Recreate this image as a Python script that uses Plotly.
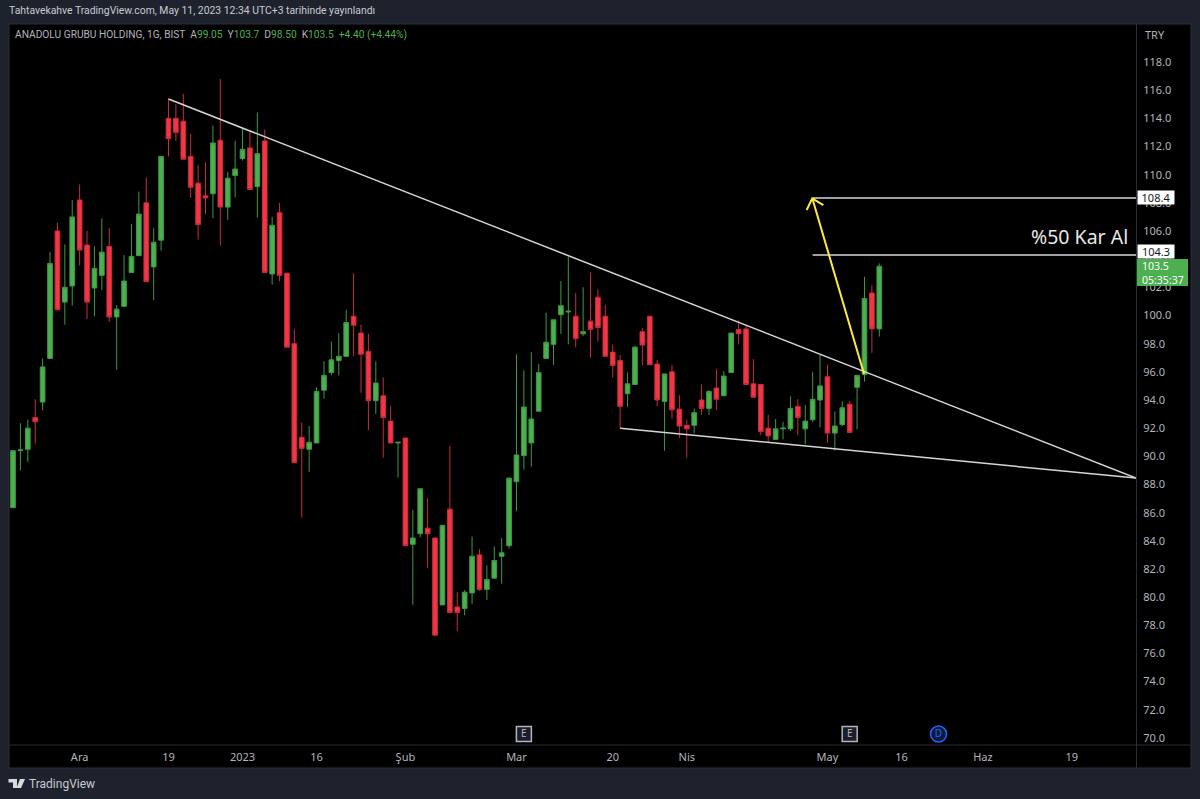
import plotly.graph_objects as go

# daily candles, x is just the bar number
opens = [86.35,90.4,90.5,92.75,93.85,96.95,106,100.95,102.1,108.2,
  105,101.95,102.85,104.9,99.9,100.65,103.05,104.25,108,103.45,
  105.35,114,114,113.8,111.3,109.4,108.5,108.65,112.45,107.7,
  109.95,111.15,111.9,109.15,112.4,102.95,107.3,103,98,91.35,
  90.5,90.95,94.7,95.95,96.8,97.1,99.95,98.75,97.45,93.95,
  94.3,92.5,90.95,91.3,83.75,84.5,84.9,84.2,79.45,86.25,
  79.3,79.2,80.3,83,80.55,81.35,82.9,83.65,88.2,90.05,
  90.95,93.2,96.95,97.95,100.05,100.25,99.95,98.7,99.6,101.3,
  99.95,97.4,96.8,94.45,95.1,98.85,99.95,96.55,93.9,96,
  93.35,92.2,92.2,94,93.4,94.85,94.3,95.95,99,99.05,
  95.15,95.1,92,91.2,91.95,91.95,93.55,91.95,92.6,94,
  95.65,91.65,92.25,93.7,94.9,95.8,101.6,99.05]
highs = [90.45,92.35,92.6,94.05,96.95,104.5,106.6,105.05,108.2,109.3,
  106,104.9,106.9,106.2,100.75,104.3,106.5,108.8,109.8,106.2,
  111.3,115.4,115,115.75,112.9,110.7,110.85,113.5,116.8,110.2,
  112.4,113.25,113.15,114.4,113.2,107,108,103.05,99.05,92.4,
  92.15,94.9,96.75,98.15,98.75,100.4,103,99.35,98.7,96.75,
  95.6,93.55,91,91.3,86.2,87.7,87.05,84.2,85.1,90.75,
  80.35,80.5,84.3,83.4,82.25,83.6,84.2,88.5,97.25,96.1,
  97.4,96.55,100.2,99.7,102.45,104.2,101.6,102,103.05,101.85,
  100.75,97.95,97.2,95.95,97.85,99.1,99.95,96.85,95.85,96.5,
  94.35,92.6,93.4,95.1,94.7,96.2,96.05,98.75,99.65,99.3,
  96.9,95.1,92.95,92.65,92.45,94.25,94.05,93.65,96,97.2,
  96.5,93.2,93.9,93.95,95.75,102.75,102.15,103.7]
lows = [86.35,89,89.6,90.9,93.25,96.95,100.4,99.35,100.7,103.55,
  99.75,99.95,101.8,99.55,96.15,100.65,103.05,104.25,102.4,101.1,
  104.6,111.3,112.4,111.1,108.35,105.4,107.2,106.9,104.95,106.8,
  108.4,111,108.95,106.95,103.05,102.2,102.45,97.75,89.55,85.65,
  88.9,90.95,94.1,95.75,95.75,97.1,97.1,94.5,91.85,93,
  89.9,90.95,88.5,83.65,79.45,84.25,82.05,77.3,79.45,78.9,
  77.6,78.7,79.5,80.45,79.8,81.35,80.95,83.45,86.1,89.05,
  89.25,93.2,96.95,96.5,98.7,97.95,97.75,98.55,97,98.15,
  97.1,95.6,92,93.5,95.1,96.45,96.5,93.55,90.4,92.65,
  91.3,89.9,91.65,92.95,92.95,93.3,94.3,95.95,97.95,95.1,
  94.2,91.5,91,91.2,91.2,91.8,91.5,90.85,92.45,92.05,
  90.95,90.4,92.15,91.65,91.9,95.3,97.35,98.5]
closes = [90.4,90.45,92,92.45,96.35,103.7,100.4,102,107,104.65,
  100.95,103.35,104.5,99.9,100.45,102.45,104.2,107.2,102.4,105.2,
  111.3,112.55,113,111.1,109.1,106.45,108.35,112.25,107.7,109.75,
  110.4,111.8,108.95,111.5,103.05,106.4,102.85,97.75,89.55,90.55,
  91,94.6,95.75,96.85,97.1,99.5,99.3,97.25,93.95,95.2,
  92.75,90.95,91,83.65,84.2,87.7,84.5,77.3,85.1,78.9,
  78.9,80.35,82.9,80.55,81.25,82.6,83.15,88.45,90.1,93.5,
  92.65,95.95,98.1,99.7,100.7,100.3,98.35,98.85,99,99.15,
  97.1,96.45,93.55,95.15,97.75,97.9,96.5,94,95.85,93.3,
  92.15,91.95,93.1,93.4,94.6,94.05,95.7,98.75,98.7,95.1,
  94.2,91.75,91.45,91.95,92,93.4,92.75,92.5,94.05,95,
  91.65,92.15,93.45,91.7,95.75,101.2,99.05,103.5]
bars = list(range(len(opens)))

date_ticks = [9, 21, 31, 41, 53, 68, 81, 91, 110, 120, 131, 143]
date_labels = ["Ara", "19", "2023", "16", "Şub", "Mar", "20", "Nis", "May", "16", "Haz", "19"]
price_ticks = [70, 72, 74, 76, 78, 80, 82, 84, 86, 88, 90, 92, 94, 96, 98, 100,
  102, 104, 106, 108, 110, 112, 114, 116, 118]

# drawings on the chart
upper_x = [21, 151.67]
upper_y = [115.37, 88.46]
lower_x = [82, 151.67]
lower_y = [92.0, 88.46]
target_x = [108, 151.67]
target_hi = [108.35, 108.35]
target_lo = [104.3, 104.3]
arrow_x = [114.94, 107.95]
arrow_y = [95.85, 108.32]
head_x = [107.19, 107.95, 109.44]
head_y = [107.49, 108.32, 107.84]
earnings_x = [69, 113]
dividend_x = [125]
event_y = 70.28

GREEN = "#4caf50"
RED = "#f23645"
FRAME = "#2a2e39"
TEXT = "#b2b5be"
FONT = "Noto Sans"
SMALL = "Roboto"

# pixel -> paper, for the furniture around the plot only
L, R, T, B = 10, 1136, 24, 745
def xp(x):
  return (x - L) / (R - L)
def yp(y):
  return (B - y) / (B - T)

fig = go.Figure()

fig.add_trace(go.Candlestick(
  x=bars, open=opens, high=highs, low=lows, close=closes,
  increasing=dict(line=dict(color="#3f9a44", width=1), fillcolor=GREEN),
  decreasing=dict(line=dict(color="#c92c3c", width=1), fillcolor=RED),
  whiskerwidth=0,
  showlegend=False,
))

for xs, ys in [(upper_x, upper_y), (lower_x, lower_y), (target_x, target_hi), (target_x, target_lo)]:
  fig.add_trace(go.Scatter(x=xs, y=ys, mode="lines", line=dict(color="#d6d6d6", width=1.5), showlegend=False))

fig.add_trace(go.Scatter(x=arrow_x, y=arrow_y, mode="lines", line=dict(color="#ffeb3b", width=2), showlegend=False))
fig.add_trace(go.Scatter(x=head_x, y=head_y, mode="lines", line=dict(color="#ffeb3b", width=2), showlegend=False))

fig.add_trace(go.Scatter(
  x=earnings_x, y=[event_y] * len(earnings_x), mode="markers+text", text=["E"] * len(earnings_x),
  marker=dict(symbol="square", size=15, color="#1c1f2b", line=dict(color=TEXT, width=1.5)),
  textfont=dict(color=TEXT, size=10, family=FONT), textposition="middle center", showlegend=False,
))
fig.add_trace(go.Scatter(
  x=dividend_x, y=[event_y], mode="markers+text", text=["D"],
  marker=dict(symbol="circle", size=16, color="#0d1a3a", line=dict(color="#2962ff", width=1.5)),
  textfont=dict(color="#2962ff", size=10, family=FONT), textposition="middle center", showlegend=False,
))

header = ('<span style="color:#b2b5be">ANADOLU GRUBU HOLDING, 1G, BIST &nbsp;A</span>'
  '<span style="color:#4caf50">99.05</span><span style="color:#b2b5be"> &nbsp;Y</span>'
  '<span style="color:#4caf50">103.7</span><span style="color:#b2b5be"> &nbsp;D</span>'
  '<span style="color:#4caf50">98.50</span><span style="color:#b2b5be"> &nbsp;K</span>'
  '<span style="color:#4caf50">103.5 &nbsp;+4.40 (+4.44%)</span>')

def note(x, y, text, **kw):
  fig.add_annotation(x=xp(x), y=yp(y), xref="paper", yref="paper", text=text, showarrow=False,
    xanchor=kw.pop("xanchor", "left"), yanchor=kw.pop("yanchor", "middle"), **kw)

note(7, 10, "Tahtavekahve TradingView.com, May 11, 2023 12:34 UTC+3 tarihinde yayınlandı",
  font=dict(color="#c8cad2", size=10.4, family=SMALL))
note(13, 35, header, font=dict(size=10.2, family=SMALL))
note(1143, 34, "TRY", font=dict(color=TEXT, size=11, family=FONT))
note(27, 784, "TradingView", font=dict(color="#c8cad2", size=12, family=SMALL))

fig.add_annotation(x=150.8, y=105.6, text="%50 Kar Al", showarrow=False, xanchor="right", yanchor="middle",
  font=dict(color="#e8e8e8", size=19.5, family=FONT))

# price tags on the scale
for y, label in [(197.3, "108.4"), (251.3, "104.3")]:
  note(1137, y, label, width=36, height=13, bgcolor="#ffffff", borderpad=0,
    font=dict(color="#131722", size=11, family=FONT))
note(1141, 272.5, "103.5<br>05:35:37", align="left", borderpad=0,
  font=dict(color="#ffffff", size=10.5, family=FONT))

shapes = [
  # black chart panel incl. both scales
  dict(type="rect", xref="paper", yref="paper", x0=xp(9), x1=xp(1191), y0=yp(768), y1=yp(24),
       fillcolor="black", line=dict(color=FRAME, width=1), layer="below"),
  dict(type="line", xref="paper", yref="paper", x0=xp(1136.5), x1=xp(1136.5), y0=yp(768), y1=yp(24),
       line=dict(color=FRAME, width=1)),
  dict(type="line", xref="paper", yref="paper", x0=xp(9), x1=xp(1191), y0=yp(745), y1=yp(745),
       line=dict(color=FRAME, width=1)),
  # green last price tag
  dict(type="rect", xref="paper", yref="paper", x0=xp(1137), x1=xp(1188), y0=yp(286), y1=yp(259),
       fillcolor=GREEN, line=dict(width=0)),
  # logo
  dict(type="path", xref="paper", yref="paper", fillcolor="#d8dae0", line=dict(width=0),
       path=f"M {xp(8.5)} {yp(779)} L {xp(17)} {yp(779)} L {xp(17)} {yp(788)} L {xp(13)} {yp(788)} L {xp(13)} {yp(782.5)} L {xp(8.5)} {yp(782.5)} Z"),
  dict(type="path", xref="paper", yref="paper", fillcolor="#d8dae0", line=dict(width=0),
       path=f"M {xp(20)} {yp(779)} L {xp(25)} {yp(779)} L {xp(21)} {yp(788)} L {xp(16.5)} {yp(788)} Z"),
]

fig.update_layout(
  width=1200, height=799,
  margin=dict(l=L, r=1200 - R, t=T, b=799 - B),
  paper_bgcolor="#1e222d",
  plot_bgcolor="black",
  font=dict(family=FONT, size=11, color=TEXT),
  hovermode="closest",
  boxgap=0.37,
  boxgroupgap=0,
  shapes=shapes,
  xaxis=dict(
    range=[-0.405, 151.67], rangeslider=dict(visible=False), showgrid=False, zeroline=False,
    tickmode="array", tickvals=date_ticks, ticktext=date_labels,
    ticks="outside", ticklen=2, tickcolor="rgba(0,0,0,0)", showline=False,
  ),
  yaxis=dict(
    side="right", range=[69.5, 120.7], tickmode="array", tickvals=price_ticks, tickformat=".1f",
    showgrid=False, zeroline=False, ticks="outside", ticklen=4, tickcolor="rgba(0,0,0,0)", showline=False,
  ),
)

fig.write_html("out.html", post_script="document.body.style.margin='0';", config=dict(displayModeBar=False))
